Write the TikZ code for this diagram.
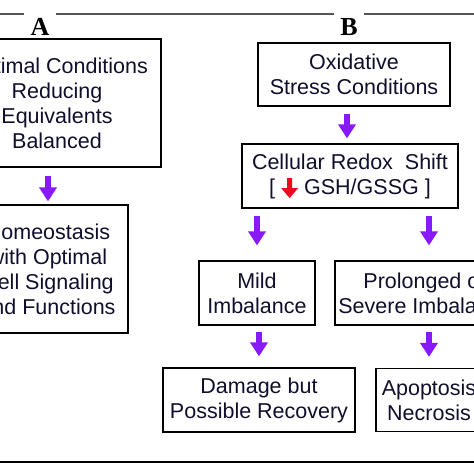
\documentclass[tikz,border=0pt]{standalone}
\usepackage{fontspec}
\setmainfont{Liberation Sans}
\newfontfamily\tagfont{Liberation Serif}
\usetikzlibrary{arrows.meta}
\definecolor{ink}{RGB}{15,15,45}
\definecolor{violetarrow}{RGB}{135,25,250}
\definecolor{redarrow}{RGB}{235,10,30}
\definecolor{rulegray}{RGB}{85,85,85}
\newcommand{\gshdown}{\tikz[baseline=0pt]\fill[redarrow] (8.5pt,-4pt) -- (0pt,6pt) -- (6pt,6pt) -- (6pt,16pt) -- (11pt,16pt) -- (11pt,6pt) -- (17pt,6pt) -- cycle;}

\begin{document}
\begin{tikzpicture}[x=1pt,y=-1pt,
	box/.style={draw,line width=1.2pt,align=center,inner sep=0pt,text=ink,font=\fontsize{21.5}{25}\selectfont},
	flow/.style={draw=violetarrow,line width=6pt,-{Triangle[width=17pt,length=14pt]}},
	tag/.style={inner xsep=6pt,inner ysep=0pt,font=\tagfont\bfseries\fontsize{26}{26}\selectfont}]
	\useasboundingbox (0,0) rectangle (474,474);
	\clip (0,0) rectangle (474,474);
	% panel tags and rules
	\node[tag] (tagA) at (40,27) {A};
	\node[tag] (tagB) at (349,27) {B};
	\coordinate (topL) at (0,14);
	\coordinate (topR) at (474,14);
	\draw[rulegray,line width=1.5pt] (topL) -- (topL -| tagA.west);
	\draw[rulegray,line width=1.5pt] (topL -| tagA.east) -- (topL -| tagB.west);
	\draw[rulegray,line width=1.5pt] (topL -| tagB.east) -- (topR);
	\coordinate (botL) at (0,462);
	\coordinate (botR) at (474,462);
	\draw[line width=1.5pt] (botL) -- (botR);
	% panel A
	\node[box,minimum width=208,minimum height=128] (optimal) at (57,103)
		{Optimal Conditions\\Reducing\\Equivalents\\Balanced};
	\node[box,minimum width=160,minimum height=128] (homeo) at (48,269)
		{Homeostasis\\with Optimal\\Cell Signaling\\and Functions};
	\draw[flow,shorten <=8pt,shorten >=3pt] (optimal.south -| homeo.north) -- (homeo.north);
	% panel B
	\node[box,minimum width=192,minimum height=63] (oxid) at (354,74.5)
		{Oxidative\\Stress Conditions};
	\node[box,minimum width=216,minimum height=64] (redox) at (350,176)
		{Cellular Redox~ Shift\\{[} \gshdown{} GSH/GSSG ]};
	\node[box,minimum width=116,minimum height=64] (mild) at (257,293)
		{Mild\\Imbalance};
	\node[box,minimum width=180,minimum height=64] (severe) at (425,293)
		{Prolonged or\\Severe Imbalance};
	\node[box,minimum width=192,minimum height=64] (recover) at (259,400)
		{Damage but\\Possible Recovery};
	\node[box,minimum width=106,minimum height=63] (death) at (429,400)
		{Apoptosis\\Necrosis};
	\draw[flow,shorten <=7pt,shorten >=5pt] (oxid.south -| 347,0) -- (redox.north -| 347,0);
	\draw[flow,shorten <=7pt,shorten >=15pt] (redox.south -| mild.north) -- (mild.north);
	\draw[flow,shorten <=7pt,shorten >=15pt] (redox.south -| death.north) -- (death.north |- severe.north);
	\draw[flow,shorten <=6pt,shorten >=11pt] (mild.south -| recover.north) -- (recover.north);
	\draw[flow,shorten <=6pt,shorten >=11pt] (severe.south -| death.north) -- (death.north);
\end{tikzpicture}
\end{document}
